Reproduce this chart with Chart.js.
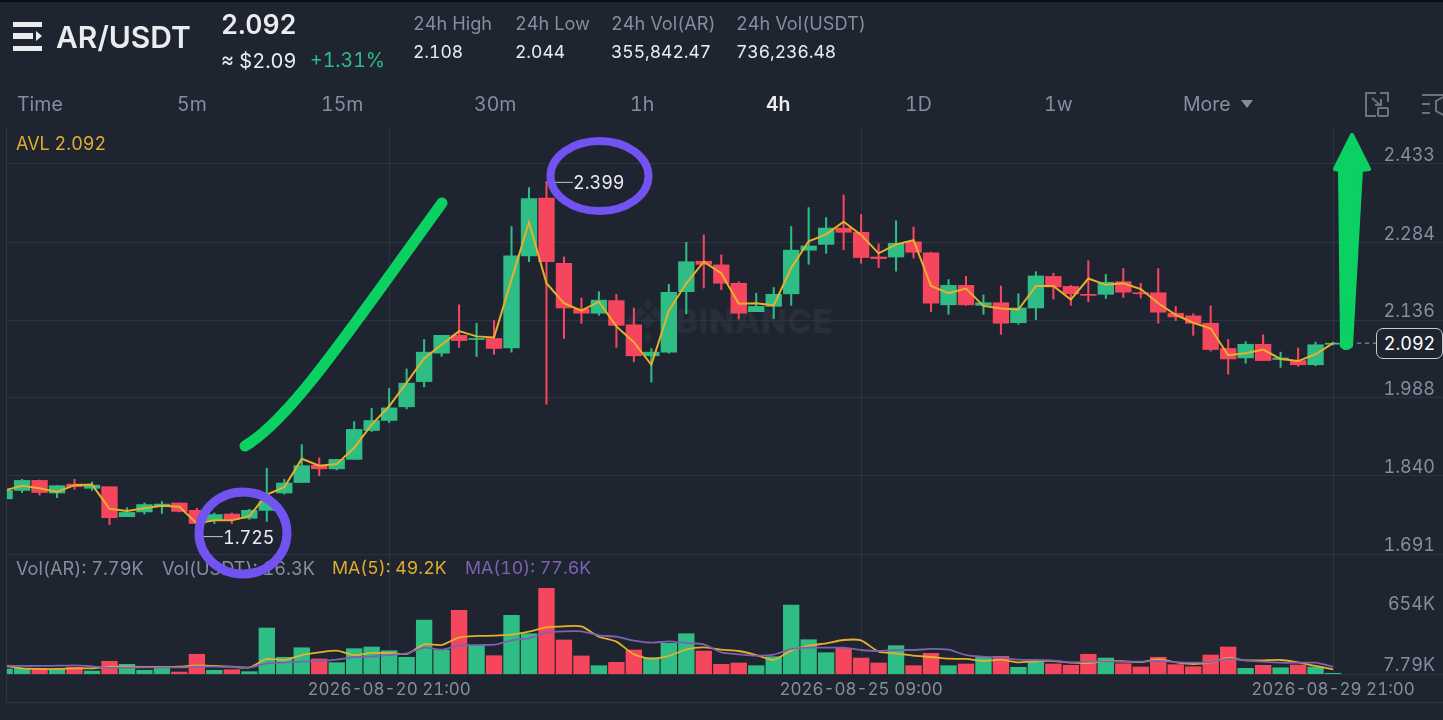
<!DOCTYPE html>
<html>
<head>
<meta charset="utf-8">
<title>AR/USDT</title>
<script src="https://cdn.jsdelivr.net/npm/chart.js@4"></script>
<style>
  html, body { margin: 0; padding: 0; background: #1e2430; }
  body { width: 1443px; height: 720px; position: relative; overflow: hidden; font-family: Inter, "Noto Sans", sans-serif; color: #eaecef; font-feature-settings: "tnum"; }
  .t { position: absolute; white-space: nowrap; line-height: 1; }
  .gray { color: #848e9c; }
  .tab { top: 95px; font-size: 19.5px; color: #848e9c; }
  .lbl { top: 14px; font-size: 18.2px; color: #848e9c; }
  .val { top: 43px; font-size: 17.5px; }
  .leg { top: 559px; font-size: 17.8px; }
  canvas { position: absolute; left: 0; top: 0; }
  svg { position: absolute; left: 0; top: 0; }
  #topline { position: absolute; left: 0; top: 0; width: 1443px; height: 2px; background: #0b0e11; }
  #frame { position: absolute; left: 6px; top: 127px; width: 1437px; height: 575px; border-left: 1px solid #2f3541; border-bottom: 1px solid #2f3541; }
  #mark { position: absolute; left: 676px; top: 303px; font-size: 33px; font-weight: 800; letter-spacing: 0.8px; color: #282e3a; line-height: 1.1; }
  #tag { position: absolute; left: 1376px; top: 328px; width: 65px; height: 29px; border: 1px solid #c9ccd2; border-radius: 7px; background: #1e2430; text-align: center; line-height: 30px; font-size: 18px; color: #fff; }
</style>
</head>
<body>
<div id="topline"></div>
<div id="frame"></div>
<svg width="1443" height="720">
  <g fill="#282e3a" transform="translate(648 321) rotate(45)">
    <rect x="-5" y="-5" width="10" height="10"/><rect x="-15" y="-15" width="7" height="7"/><rect x="8" y="8" width="7" height="7"/><rect x="-5" y="-15" width="20" height="7"/><rect x="-15" y="-5" width="7" height="20"/>
  </g>
</svg>
<div id="mark">BINANCE</div>

<canvas id="chart" width="1443" height="720" style="width:1443px;height:720px"></canvas>

<div class="t" style="left:56px;top:22px;font-size:30px;font-weight:600">AR/USDT</div>
<div class="t" style="left:221px;top:11px;font-size:26.5px;font-weight:600">2.092</div>
<div class="t" style="left:221px;top:51px;font-size:20px">≈ $2.09</div>
<div class="t" style="left:310px;top:51px;font-size:19.5px;color:#2ebd85">+1.31%</div>
<div class="t lbl" style="left:413px">24h High</div><div class="t val" style="left:413px">2.108</div>
<div class="t lbl" style="left:515px">24h Low</div><div class="t val" style="left:515px">2.044</div>
<div class="t lbl" style="left:611px">24h Vol(AR)</div><div class="t val" style="left:611px">355,842.47</div>
<div class="t lbl" style="left:736px">24h Vol(USDT)</div><div class="t val" style="left:736px">736,236.48</div>
<div class="t tab" style="left:17px">Time</div>
<div class="t tab" style="left:177px">5m</div>
<div class="t tab" style="left:321px">15m</div>
<div class="t tab" style="left:474px">30m</div>
<div class="t tab" style="left:630px">1h</div>
<div class="t tab" style="left:766px;color:#eaecef;font-weight:600">4h</div>
<div class="t tab" style="left:905px">1D</div>
<div class="t tab" style="left:1044px">1w</div>
<div class="t tab" style="left:1183px">More</div>
<div class="t" style="left:16px;top:135px;font-size:18px;color:#e0ad2b">AVL 2.092</div>
<div class="t leg gray" style="left:16px;font-size:18.2px">Vol(AR): 7.79K</div>
<div class="t leg gray" style="left:162px;font-size:18.2px">Vol(USDT): 16.3K</div>
<div class="t leg" style="left:332px;color:#e0ad2b">MA(5): 49.2K</div>
<div class="t leg" style="left:465px;color:#7d62b0">MA(10): 77.6K</div>
<div id="tag">2.092</div>

<svg width="1443" height="720">
  <g fill="#eaecef">
    <rect x="13" y="22" width="29" height="5"/><rect x="13" y="33" width="20" height="6"/><rect x="13" y="46" width="29" height="5"/><path d="M36 31 L42 36 L36 41 Z"/>
  </g>
  <g fill="none" stroke="#6b7280" stroke-width="2">
    <path d="M1376 93 H1366 V116 H1376 M1380 93 H1388 V102"/><rect x="1378" y="108" width="10" height="8" rx="1"/><path d="M1372 98 L1380 105 M1381 99 V105 H1375"/>
    <path d="M1422 95 H1443 M1422 104 H1430 M1422 113 H1430"/><path d="M1443 97 L1436 101 V111 L1443 115"/>
  </g>
  <path d="M1241 100 H1253 L1247 108 Z" fill="#848e9c"/>
  <ellipse cx="243" cy="533" rx="44" ry="41" fill="none" stroke="#7352f2" stroke-width="9"/>
  <ellipse cx="599.5" cy="176" rx="49" ry="35" fill="none" stroke="#7352f2" stroke-width="8"/>
  <path d="M245 446 C290 420 350 330 442 203" fill="none" stroke="#0bd163" stroke-width="11" stroke-linecap="round"/>
  <path d="M1352 135 L1369 169 L1361 170 L1351 346 Q1346 350 1342 346 L1340 170 L1335 169 Z" fill="#0bd163" stroke="#0bd163" stroke-width="4" stroke-linejoin="round"/>
</svg>

<script>
const opens = [1.796,1.812,1.831,1.807,1.824,1.816,1.819,1.762,1.771,1.783,
  1.788,1.774,1.755,1.767,1.759,1.774,1.807,1.827,1.860,1.853,
  1.871,1.926,1.945,1.971,2.019,2.073,2.107,2.099,2.101,2.083,
  2.258,2.368,2.244,2.157,2.149,2.173,2.127,2.068,2.075,2.190,
  2.248,2.241,2.206,2.152,2.162,2.186,2.269,2.280,2.311,2.303,
  2.256,2.256,2.285,2.264,2.165,2.202,2.164,2.169,2.131,2.159,
  2.219,2.200,2.185,2.185,2.209,2.188,2.188,2.149,2.144,2.130,
  2.082,2.064,2.090,2.061,2.059,2.051,2.090];
const highs = [1.813,1.833,1.832,1.821,1.833,1.828,1.819,1.779,1.788,1.791,
  1.788,1.778,1.769,1.769,1.776,1.854,1.833,1.899,1.874,1.871,
  1.943,1.968,2.006,2.043,2.099,2.107,2.165,2.130,2.135,2.314,
  2.388,2.399,2.256,2.178,2.190,2.185,2.159,2.082,2.204,2.284,
  2.298,2.260,2.209,2.187,2.198,2.314,2.350,2.331,2.374,2.337,
  2.281,2.325,2.313,2.265,2.213,2.219,2.184,2.201,2.186,2.228,
  2.225,2.202,2.249,2.223,2.234,2.206,2.234,2.162,2.148,2.163,
  2.099,2.095,2.108,2.075,2.083,2.094,2.094];
const lows = [1.795,1.808,1.803,1.798,1.814,1.812,1.747,1.762,1.767,1.768,
  1.771,1.725,1.749,1.749,1.757,1.753,1.805,1.827,1.840,1.851,
  1.871,1.924,1.941,1.967,2.009,2.067,2.084,2.067,2.071,2.075,
  2.247,1.976,2.101,2.130,2.145,2.084,2.057,2.018,2.073,2.148,
  2.197,2.194,2.138,2.152,2.139,2.164,2.242,2.263,2.270,2.244,
  2.236,2.229,2.254,2.152,2.147,2.164,2.147,2.109,2.128,2.137,
  2.176,2.164,2.171,2.177,2.179,2.178,2.130,2.135,2.107,2.077,
  2.033,2.054,2.059,2.046,2.048,2.049,2.089];
const closes = [1.812,1.831,1.808,1.821,1.819,1.822,1.760,1.770,1.785,1.786,
  1.772,1.749,1.766,1.757,1.774,1.791,1.826,1.859,1.853,1.871,
  1.928,1.945,1.969,2.016,2.075,2.107,2.097,2.101,2.082,2.258,
  2.367,2.247,2.159,2.149,2.174,2.126,2.068,2.075,2.189,2.247,
  2.242,2.206,2.149,2.162,2.185,2.269,2.277,2.311,2.303,2.255,
  2.253,2.282,2.265,2.168,2.202,2.165,2.169,2.130,2.159,2.220,
  2.199,2.186,2.183,2.208,2.189,2.186,2.151,2.142,2.130,2.080,
  2.062,2.090,2.059,2.064,2.051,2.089,2.092];
const avl = [1.812,1.821,1.816,1.809,1.822,1.823,1.777,1.773,1.778,1.783,
  1.781,1.749,1.755,1.755,1.763,1.804,1.818,1.872,1.859,1.862,
  1.893,1.937,1.972,2.017,2.063,2.089,2.115,2.105,2.103,2.213,
  2.322,2.206,2.168,2.154,2.171,2.124,2.094,2.051,2.154,2.206,
  2.247,2.225,2.167,2.168,2.164,2.235,2.286,2.299,2.323,2.298,
  2.263,2.280,2.288,2.201,2.187,2.196,2.163,2.158,2.156,2.201,
  2.201,2.175,2.215,2.203,2.206,2.195,2.168,2.146,2.131,2.120,
  2.069,2.073,2.080,2.062,2.058,2.071,2.092];
const volumes = [54,61,59,50,72,32,136,104,40,67,
  21,211,40,46,25,492,179,281,161,121,
  271,289,249,179,578,257,682,303,196,628,
  431,917,364,193,89,125,257,174,328,431,
  246,104,118,89,185,738,367,228,275,171,
  118,303,89,221,89,107,179,189,72,125,
  107,93,211,171,110,75,179,100,78,203,
  289,61,93,67,96,75,7.79];
const ma5 = [89,61,54,54,61,61,78,78,75,75,
  78,93,86,78,71,161,150,203,232,250,
  203,225,225,214,317,310,392,407,410,421,
  453,499,510,510,399,346,210,164,193,264,
  285,260,246,203,150,250,303,328,364,360,
  239,221,196,182,164,161,139,153,125,136,
  139,121,118,139,136,128,157,125,107,125,
  171,146,146,150,125,86,49.2];
const ma10 = [89,86,86,89,93,82,68,68,71,71,
  71,78,78,75,68,114,121,132,139,153,
  182,185,203,221,282,260,307,310,314,360,
  382,442,457,457,414,399,357,335,350,332,
  317,232,210,196,207,268,282,282,282,257,
  246,257,257,268,260,203,185,175,153,150,
  143,125,132,136,132,132,139,128,121,128,
  161,146,132,121,121,121,77.6];

const priceTicks = [2.433, 2.284, 2.136, 1.988, 1.840, 1.691];
const volTicks = [654, 7.79];
const volTickLabels = ["654K", "7.79K"];
const timeIndex = [22, 49, 76];
const timeLabels = ["2026-08-20 21:00", "2026-08-25 09:00", "2026-08-29 21:00"];
const highLabel = { i: 31, price: 2.399, text: "2.399", textX: 574 };
const lowLabel = { i: 11, price: 1.725, text: "1.725", textX: 224 };
const lastPrice = 2.092;

const UP = "#2ebd85", DOWN = "#f6465d", GRID = "#2d333f", TICK = "#848e9c";
const FONT = 'Inter, "Noto Sans", sans-serif';
const candleColor = i => closes[i] >= opens[i] ? UP : DOWN;
const series = arr => arr.map((v, i) => ({ x: i, y: v }));

// wicks and bodies are floating bars on the price scale
const wicks = opens.map((_, i) => ({ x: i, y: [lows[i], highs[i]] }));
const bodies = opens.map((o, i) => ({ x: i, y: [o, closes[i]] }));

const extras = {
  id: "extras",
  afterDatasetsDraw(chart) {
    const { ctx, scales } = chart;
    const px = scales.x, py = scales.yPrice;
    ctx.save();
    ctx.font = "18px " + FONT;
    ctx.textBaseline = "middle";
    [highLabel, lowLabel].forEach(l => {
      const y = py.getPixelForValue(l.price);
      ctx.strokeStyle = "#c4c7cd";
      ctx.lineWidth = 1;
      ctx.beginPath();
      ctx.moveTo(px.getPixelForValue(l.i), y + 0.5);
      ctx.lineTo(l.textX - 1, y + 0.5);
      ctx.stroke();
      ctx.fillStyle = "#eaecef";
      ctx.fillText(l.text, l.textX - 1, y + 2);
    });
    const ly = py.getPixelForValue(lastPrice);
    ctx.strokeStyle = "#9aa0aa";
    ctx.setLineDash([4, 4]);
    ctx.beginPath();
    ctx.moveTo(px.getPixelForValue(76), ly);
    ctx.lineTo(1376, ly);
    ctx.stroke();
    ctx.restore();
  }
};

new Chart(document.getElementById("chart"), {
  data: {
    datasets: [
      { type: "line", label: "AVL", data: series(avl), yAxisID: "yPrice", borderColor: "#e6b02a", borderWidth: 2, pointRadius: 0, tension: 0, order: 1 },
      { type: "bar", label: "body", data: bodies, yAxisID: "yPrice", backgroundColor: bodies.map((_, i) => candleColor(i)), barThickness: 15.7, minBarLength: 1, grouped: false, order: 2 },
      { type: "bar", label: "wick", data: wicks, yAxisID: "yPrice", backgroundColor: wicks.map((_, i) => candleColor(i)), barThickness: 1.4, grouped: false, order: 3 },
      { type: "line", label: "MA(10)", data: series(ma10), yAxisID: "yVol", borderColor: "#7d62b0", borderWidth: 1.8, pointRadius: 0, tension: 0.2, order: 4 },
      { type: "line", label: "MA(5)", data: series(ma5), yAxisID: "yVol", borderColor: "#e6b02a", borderWidth: 1.8, pointRadius: 0, tension: 0.2, order: 5 },
      { type: "bar", label: "Vol", data: series(volumes), yAxisID: "yVol", backgroundColor: volumes.map((_, i) => candleColor(i)), barThickness: 15.7, grouped: false, order: 6 }
    ]
  },
  options: {
    responsive: false,
    animation: false,
    devicePixelRatio: 1,
    layout: { padding: { left: 7, top: 128, right: 0, bottom: 18 } },
    plugins: { legend: { display: false }, tooltip: { enabled: false } },
    scales: {
      x: {
        type: "linear",
        offset: false,
        min: 0.137,
        max: 82.29,
        afterBuildTicks: s => { s.ticks = timeIndex.map(v => ({ value: v })); },
        afterFit: s => { s.height = 28; },
        grid: { color: GRID, drawTicks: false, offset: false },
        border: { color: GRID },
        ticks: {
          autoSkip: false,
          maxRotation: 0,
          padding: 6,
          color: TICK,
          font: { family: FONT, size: 17 },
          callback: v => timeLabels[timeIndex.indexOf(v)]
        }
      },
      yPrice: {
        type: "linear",
        position: "right",
        stack: "panels",
        stackWeight: 426,
        min: 1.691,
        max: 2.5014,
        afterBuildTicks: s => { s.ticks = priceTicks.map(v => ({ value: v })); },
        afterFit: s => { s.width = 0; },
        grid: { color: GRID, drawTicks: false },
        border: { display: false },
        ticks: {
          mirror: true,
          padding: -8,
          labelOffset: -8,
          color: TICK,
          font: { family: FONT, size: 18 },
          callback: v => v.toFixed(3)
        }
      },
      yVol: {
        type: "linear",
        position: "right",
        stack: "panels",
        stackWeight: 120,
        min: 0,
        max: 1284,
        afterBuildTicks: s => { s.ticks = volTicks.map(v => ({ value: v })); },
        afterFit: s => { s.width = 0; },
        grid: { display: false, drawTicks: false },
        border: { display: false },
        ticks: {
          mirror: true,
          padding: -8,
          labelOffset: -8,
          color: TICK,
          font: { family: FONT, size: 18 },
          callback: v => volTickLabels[volTicks.indexOf(v)]
        }
      }
    }
  },
  plugins: [extras]
});
</script>
</body>
</html>
